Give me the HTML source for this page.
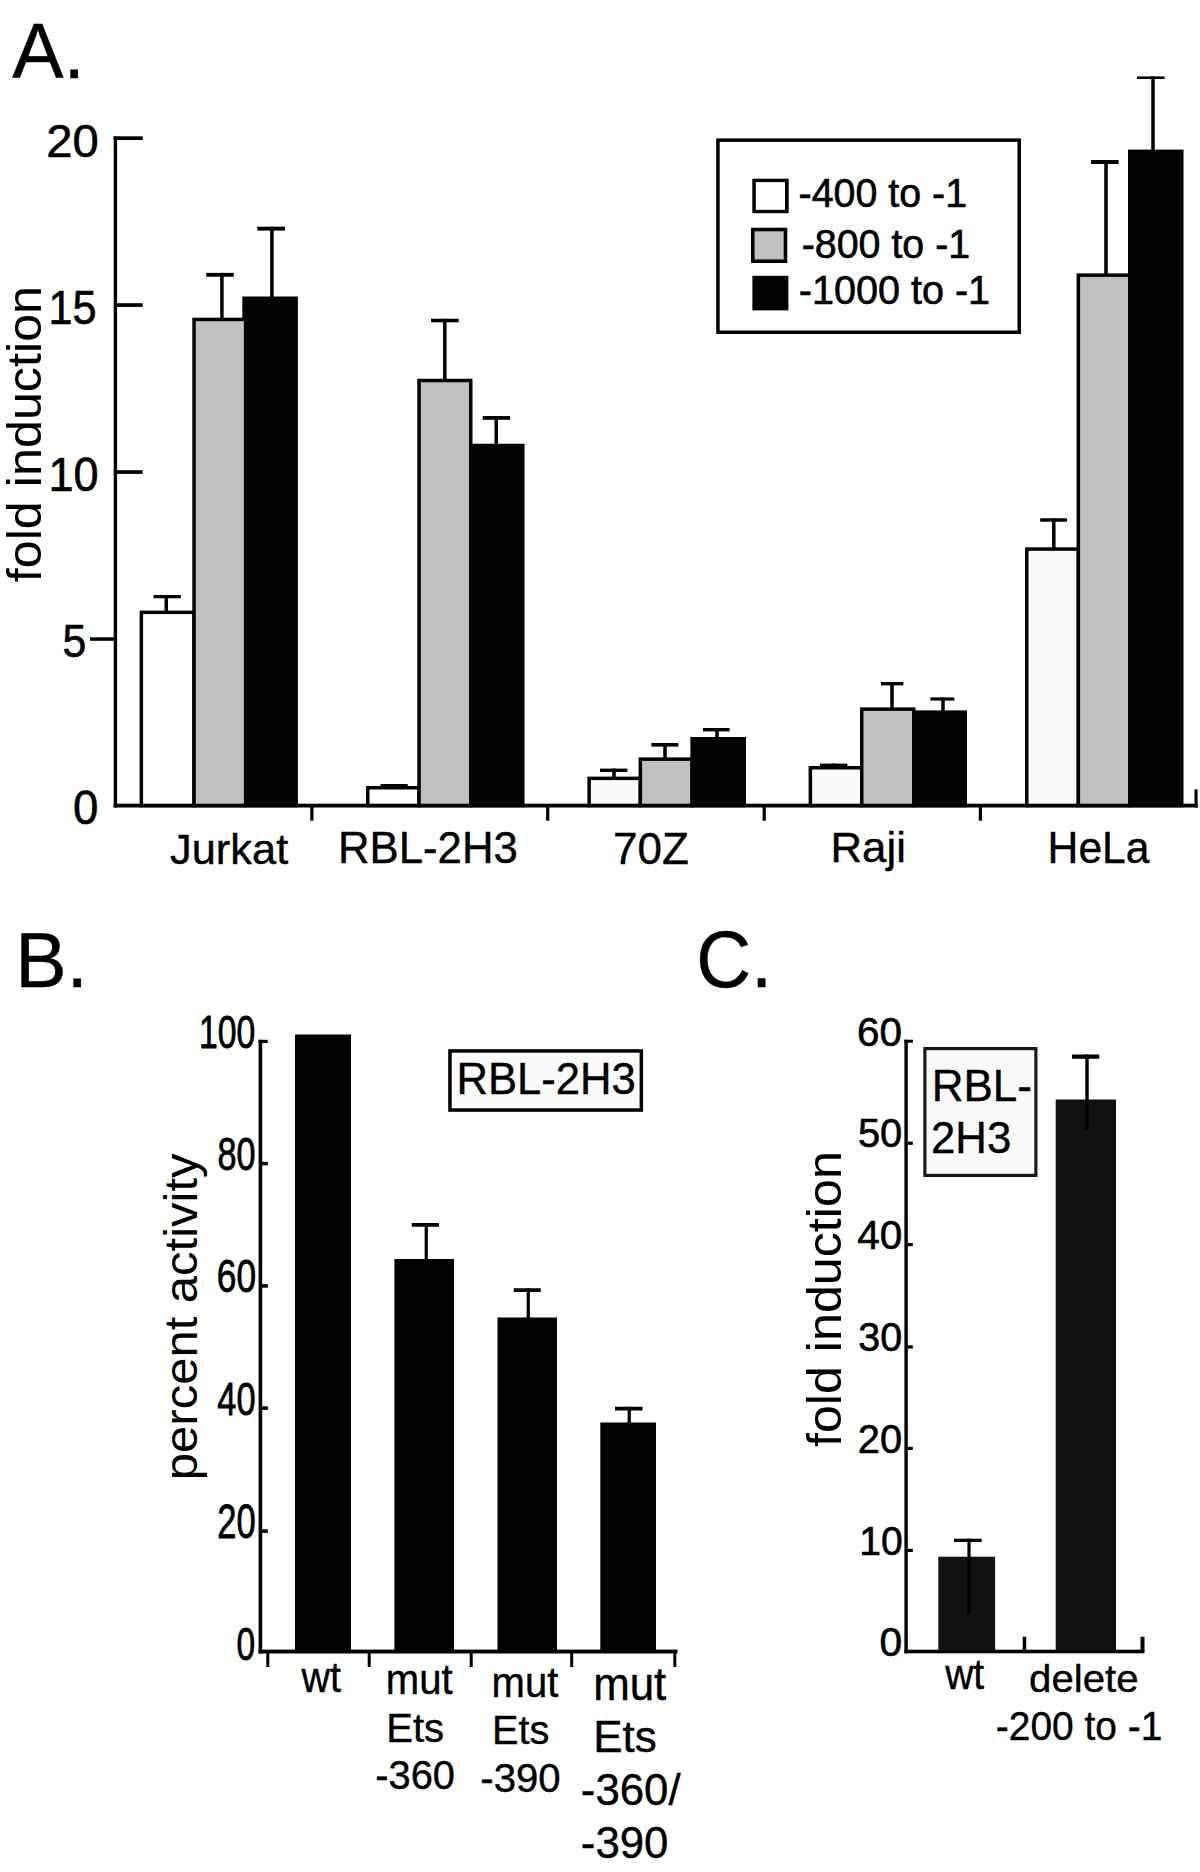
<!DOCTYPE html>
<html><head><meta charset="utf-8"><title>Figure</title>
<style>html,body{margin:0;padding:0;background:#fff;width:1200px;height:1872px;overflow:hidden}
svg{display:block} text{font-family:'Liberation Sans', Arial, sans-serif;fill:#000}</style></head>
<body><svg width="1200" height="1872" viewBox="0 0 1200 1872">
<rect width="1200" height="1872" fill="#fff"/>
<rect x="139.60" y="610.60" width="56.20" height="196.70" fill="#000"/>
<rect x="143.10" y="614.10" width="49.20" height="193.20" fill="#ffffff"/>
<rect x="192.30" y="317.70" width="53.50" height="489.60" fill="#000"/>
<rect x="195.80" y="321.20" width="46.50" height="486.10" fill="#c0c0c0"/>
<rect x="242.30" y="296.50" width="55.60" height="510.80" fill="#000"/>
<rect x="240.30" y="321.20" width="3.60" height="482.50" fill="#c0c0c0"/>
<rect x="366.00" y="786.00" width="54.80" height="21.30" fill="#000"/>
<rect x="369.50" y="789.50" width="47.80" height="17.80" fill="#ffffff"/>
<rect x="417.30" y="378.75" width="55.20" height="428.55" fill="#000"/>
<rect x="420.80" y="382.25" width="48.20" height="425.05" fill="#c0c0c0"/>
<rect x="469.00" y="443.75" width="55.50" height="363.55" fill="#000"/>
<rect x="587.40" y="776.60" width="54.70" height="30.70" fill="#000"/>
<rect x="590.90" y="780.10" width="47.70" height="27.20" fill="#fafafa"/>
<rect x="638.60" y="757.40" width="55.30" height="49.90" fill="#000"/>
<rect x="642.10" y="760.90" width="48.30" height="46.40" fill="#c0c0c0"/>
<rect x="690.40" y="737.00" width="55.60" height="70.30" fill="#000"/>
<rect x="808.60" y="766.00" width="54.90" height="41.30" fill="#000"/>
<rect x="812.10" y="769.50" width="47.90" height="37.80" fill="#fafafa"/>
<rect x="860.00" y="707.40" width="55.50" height="99.90" fill="#000"/>
<rect x="863.50" y="710.90" width="48.50" height="96.40" fill="#c0c0c0"/>
<rect x="912.00" y="710.40" width="55.00" height="96.90" fill="#000"/>
<rect x="1025.00" y="547.30" width="55.10" height="260.00" fill="#000"/>
<rect x="1028.50" y="550.80" width="48.10" height="256.50" fill="#fafafa"/>
<rect x="1076.60" y="273.40" width="54.90" height="533.90" fill="#000"/>
<rect x="1080.10" y="276.90" width="47.90" height="530.40" fill="#c0c0c0"/>
<rect x="1128.00" y="149.60" width="55.50" height="657.70" fill="#000"/>
<rect x="153.50" y="595.00" width="27.30" height="3.30" fill="#000"/>
<rect x="164.50" y="595.00" width="3.50" height="17.00" fill="#000"/>
<rect x="206.25" y="272.90" width="27.50" height="3.80" fill="#000"/>
<rect x="220.15" y="272.90" width="3.50" height="47.10" fill="#000"/>
<rect x="257.30" y="226.70" width="27.70" height="3.90" fill="#000"/>
<rect x="270.15" y="226.70" width="3.50" height="71.30" fill="#000"/>
<rect x="380.60" y="784.00" width="27.10" height="3.00" fill="#000"/>
<rect x="392.45" y="784.00" width="3.50" height="3.00" fill="#000"/>
<rect x="431.00" y="318.75" width="27.75" height="3.55" fill="#000"/>
<rect x="443.05" y="318.75" width="3.50" height="61.25" fill="#000"/>
<rect x="482.70" y="416.00" width="27.30" height="3.80" fill="#000"/>
<rect x="494.50" y="416.00" width="3.50" height="29.00" fill="#000"/>
<rect x="600.00" y="768.60" width="27.40" height="3.40" fill="#000"/>
<rect x="612.25" y="768.60" width="3.50" height="9.40" fill="#000"/>
<rect x="651.40" y="743.00" width="27.00" height="3.60" fill="#000"/>
<rect x="663.25" y="743.00" width="3.50" height="16.00" fill="#000"/>
<rect x="703.00" y="728.00" width="26.60" height="3.40" fill="#000"/>
<rect x="715.25" y="728.00" width="3.50" height="10.00" fill="#000"/>
<rect x="820.00" y="763.60" width="27.40" height="2.40" fill="#000"/>
<rect x="831.95" y="763.60" width="3.50" height="2.40" fill="#000"/>
<rect x="881.00" y="682.00" width="22.40" height="3.40" fill="#000"/>
<rect x="890.25" y="682.00" width="3.50" height="27.00" fill="#000"/>
<rect x="930.40" y="697.40" width="24.00" height="3.20" fill="#000"/>
<rect x="941.25" y="697.40" width="3.50" height="14.60" fill="#000"/>
<rect x="1040.20" y="518.30" width="26.80" height="3.40" fill="#000"/>
<rect x="1052.05" y="518.30" width="3.50" height="30.70" fill="#000"/>
<rect x="1091.00" y="160.00" width="27.60" height="4.00" fill="#000"/>
<rect x="1104.25" y="160.00" width="3.50" height="115.00" fill="#000"/>
<rect x="1137.00" y="76.40" width="27.60" height="2.60" fill="#000"/>
<rect x="1151.25" y="76.40" width="3.50" height="74.60" fill="#000"/>
<rect x="113.70" y="136.30" width="3.40" height="671.20" fill="#000"/>
<rect x="113.70" y="803.70" width="1083.90" height="3.80" fill="#000"/>
<rect x="113.70" y="136.30" width="29.00" height="3.70" fill="#000"/>
<rect x="117.00" y="303.20" width="25.70" height="3.70" fill="#000"/>
<rect x="117.00" y="470.20" width="25.70" height="3.70" fill="#000"/>
<rect x="90.00" y="637.30" width="24.00" height="3.50" fill="#000"/>
<rect x="310.30" y="806.00" width="3.20" height="14.70" fill="#000"/>
<rect x="546.10" y="806.00" width="3.20" height="14.70" fill="#000"/>
<rect x="762.60" y="806.00" width="3.20" height="14.70" fill="#000"/>
<rect x="978.80" y="806.00" width="3.20" height="14.70" fill="#000"/>
<rect x="1194.50" y="789.30" width="3.10" height="18.20" fill="#000"/>
<rect x="716.20" y="138.40" width="304.80" height="195.60" fill="#000"/>
<rect x="719.70" y="141.90" width="297.80" height="188.60" fill="#fff"/>
<rect x="752.30" y="178.70" width="36.40" height="34.50" fill="#000"/>
<rect x="755.80" y="182.10" width="29.20" height="27.70" fill="#ffffff"/>
<rect x="751.00" y="227.70" width="36.30" height="35.30" fill="#000"/>
<rect x="754.60" y="231.30" width="29.10" height="28.10" fill="#c0c0c0"/>
<rect x="752.40" y="275.80" width="36.00" height="34.60" fill="#000"/>
<rect x="258.60" y="1039.80" width="3.60" height="613.70" fill="#000"/>
<rect x="258.60" y="1649.60" width="418.90" height="3.90" fill="#000"/>
<rect x="258.60" y="1039.80" width="9.10" height="3.20" fill="#000"/>
<rect x="262.00" y="1161.80" width="5.80" height="3.60" fill="#000"/>
<rect x="262.00" y="1284.10" width="5.80" height="3.60" fill="#000"/>
<rect x="262.00" y="1406.30" width="5.80" height="3.60" fill="#000"/>
<rect x="262.00" y="1529.30" width="5.80" height="3.60" fill="#000"/>
<rect x="266.30" y="1652.00" width="3.00" height="15.00" fill="#000"/>
<rect x="367.70" y="1652.00" width="3.00" height="15.00" fill="#000"/>
<rect x="469.70" y="1652.00" width="3.00" height="15.00" fill="#000"/>
<rect x="570.20" y="1652.00" width="3.00" height="15.00" fill="#000"/>
<rect x="673.30" y="1652.00" width="3.00" height="15.00" fill="#000"/>
<rect x="295.00" y="1034.50" width="56.00" height="616.50" fill="#000"/>
<rect x="394.40" y="1259.00" width="59.60" height="392.00" fill="#000"/>
<rect x="497.50" y="1317.50" width="59.50" height="333.50" fill="#000"/>
<rect x="600.30" y="1422.50" width="55.70" height="228.50" fill="#000"/>
<rect x="411.75" y="1223.00" width="27.25" height="3.75" fill="#000"/>
<rect x="424.65" y="1223.00" width="3.20" height="38.00" fill="#000"/>
<rect x="513.75" y="1288.25" width="27.00" height="3.75" fill="#000"/>
<rect x="526.65" y="1288.25" width="3.20" height="30.75" fill="#000"/>
<rect x="615.00" y="1406.75" width="27.50" height="3.75" fill="#000"/>
<rect x="627.65" y="1406.75" width="3.20" height="17.25" fill="#000"/>
<rect x="448.20" y="1049.20" width="194.90" height="62.60" fill="#000"/>
<rect x="451.70" y="1052.70" width="187.90" height="55.60" fill="#fbfbfb"/>
<rect x="904.40" y="1039.75" width="3.40" height="613.55" fill="#000"/>
<rect x="904.40" y="1649.70" width="240.10" height="3.60" fill="#000"/>
<rect x="904.40" y="1039.75" width="8.50" height="2.95" fill="#000"/>
<rect x="907.50" y="1141.60" width="5.30" height="3.20" fill="#000"/>
<rect x="907.50" y="1243.00" width="5.30" height="3.20" fill="#000"/>
<rect x="907.50" y="1345.30" width="5.30" height="3.20" fill="#000"/>
<rect x="907.50" y="1446.80" width="5.30" height="3.20" fill="#000"/>
<rect x="907.50" y="1548.80" width="5.30" height="3.20" fill="#000"/>
<rect x="1022.70" y="1636.80" width="3.50" height="14.20" fill="#000"/>
<rect x="1140.50" y="1636.80" width="4.00" height="14.20" fill="#000"/>
<rect x="938.30" y="1556.70" width="56.80" height="94.30" fill="#111"/>
<rect x="1055.70" y="1099.50" width="60.30" height="551.50" fill="#111"/>
<rect x="954.00" y="1538.70" width="27.70" height="3.30" fill="#000"/>
<rect x="967.40" y="1538.70" width="3.20" height="76.30" fill="#000"/>
<rect x="1072.00" y="1054.50" width="27.25" height="4.25" fill="#000"/>
<rect x="1085.30" y="1054.50" width="3.40" height="75.50" fill="#000"/>
<rect x="923.30" y="1047.00" width="114.20" height="130.00" fill="#1a1a1a"/>
<rect x="926.50" y="1050.20" width="107.80" height="123.60" fill="#fafafa"/>
<text transform="matrix(0.7694 0.0000 0.0000 0.7855 12.2000 77.6000)" font-size="100" stroke="#000" stroke-width="0.4" vector-effect="non-scaling-stroke">A.</text>
<text transform="matrix(0.4716 0.0000 0.0000 0.4690 46.2422 157.1310)" font-size="100" stroke="#000" stroke-width="0.6" vector-effect="non-scaling-stroke">20</text>
<text transform="matrix(0.4323 0.0000 0.0000 0.4743 48.5414 323.8257)" font-size="100" stroke="#000" stroke-width="0.6" vector-effect="non-scaling-stroke">15</text>
<text transform="matrix(0.4505 0.0000 0.0000 0.4732 48.3960 490.7268)" font-size="100" stroke="#000" stroke-width="0.6" vector-effect="non-scaling-stroke">10</text>
<text transform="matrix(0.4277 0.0000 0.0000 0.4657 62.5894 657.1343)" font-size="100" stroke="#000" stroke-width="0.6" vector-effect="non-scaling-stroke">5</text>
<text transform="matrix(0.4563 0.0000 0.0000 0.4739 72.9750 824.4761)" font-size="100" stroke="#000" stroke-width="0.6" vector-effect="non-scaling-stroke">0</text>
<text transform="matrix(0.0000 -0.5030 0.4831 0.0000 40.5169 582.2530)" font-size="100">fold induction</text>
<text transform="matrix(0.3938 0.0000 0.0000 0.4070 798.5248 206.9930)" font-size="100" stroke="#000" stroke-width="0.6" vector-effect="non-scaling-stroke">-400 to -1</text>
<text transform="matrix(0.3936 0.0000 0.0000 0.4070 801.7258 258.2930)" font-size="100" stroke="#000" stroke-width="0.6" vector-effect="non-scaling-stroke">-800 to -1</text>
<text transform="matrix(0.3958 0.0000 0.0000 0.4070 798.7168 304.0930)" font-size="100" stroke="#000" stroke-width="0.6" vector-effect="non-scaling-stroke">-1000 to -1</text>
<text transform="matrix(0.4341 0.0000 0.0000 0.4230 170.0319 863.6770)" font-size="100" stroke="#000" stroke-width="0.4" vector-effect="non-scaling-stroke">Jurkat</text>
<text transform="matrix(0.4371 0.0000 0.0000 0.4352 338.0033 862.8648)" font-size="100" stroke="#000" stroke-width="0.4" vector-effect="non-scaling-stroke">RBL-2H3</text>
<text transform="matrix(0.4396 0.0000 0.0000 0.4423 613.0018 864.3577)" font-size="100" stroke="#000" stroke-width="0.4" vector-effect="non-scaling-stroke">70Z</text>
<text transform="matrix(0.4379 0.0000 0.0000 0.4287 830.4468 862.4968)" font-size="100" stroke="#000" stroke-width="0.4" vector-effect="non-scaling-stroke">Raji</text>
<text transform="matrix(0.4268 0.0000 0.0000 0.4486 1047.5853 863.1514)" font-size="100" stroke="#000" stroke-width="0.4" vector-effect="non-scaling-stroke">HeLa</text>
<text transform="matrix(0.7714 0.0000 0.0000 0.7870 15.1286 986.7000)" font-size="100" stroke="#000" stroke-width="0.4" vector-effect="non-scaling-stroke">B.</text>
<text transform="matrix(0.3374 0.0000 0.0000 0.4690 198.9506 1047.8810)" font-size="100" stroke="#000" stroke-width="0.7" vector-effect="non-scaling-stroke">100</text>
<text transform="matrix(0.3417 0.0000 0.0000 0.4690 217.5830 1169.9810)" font-size="100" stroke="#000" stroke-width="0.7" vector-effect="non-scaling-stroke">80</text>
<text transform="matrix(0.3529 0.0000 0.0000 0.4690 216.7853 1292.0810)" font-size="100" stroke="#000" stroke-width="0.7" vector-effect="non-scaling-stroke">60</text>
<text transform="matrix(0.3438 0.0000 0.0000 0.4676 217.3624 1414.8824)" font-size="100" stroke="#000" stroke-width="0.7" vector-effect="non-scaling-stroke">40</text>
<text transform="matrix(0.3451 0.0000 0.0000 0.4761 217.2245 1537.5739)" font-size="100" stroke="#000" stroke-width="0.7" vector-effect="non-scaling-stroke">20</text>
<text transform="matrix(0.3354 0.0000 0.0000 0.4690 236.5083 1659.6810)" font-size="100" stroke="#000" stroke-width="0.7" vector-effect="non-scaling-stroke">0</text>
<text transform="matrix(0.0000 -0.4902 0.4681 0.0000 196.6702 1480.1811)" font-size="100">percent activity</text>
<text transform="matrix(0.4361 0.0000 0.0000 0.4352 456.4113 1094.1648)" font-size="100" stroke="#000" stroke-width="0.4" vector-effect="non-scaling-stroke">RBL-2H3</text>
<text transform="matrix(0.3939 0.0000 0.0000 0.4169 301.5000 1692.2831)" font-size="100" stroke="#000" stroke-width="0.4" vector-effect="non-scaling-stroke">wt</text>
<text transform="matrix(0.4013 0.0000 0.0000 0.4185 385.7912 1694.0815)" font-size="100" stroke="#000" stroke-width="0.4" vector-effect="non-scaling-stroke">mut</text>
<text transform="matrix(0.4015 0.0000 0.0000 0.4043 386.1880 1741.5957)" font-size="100" stroke="#000" stroke-width="0.4" vector-effect="non-scaling-stroke">Ets</text>
<text transform="matrix(0.3984 0.0000 0.0000 0.4028 375.3062 1788.9972)" font-size="100" stroke="#000" stroke-width="0.4" vector-effect="non-scaling-stroke">-360</text>
<text transform="matrix(0.4000 0.0000 0.0000 0.4169 491.6000 1696.8831)" font-size="100" stroke="#000" stroke-width="0.4" vector-effect="non-scaling-stroke">mut</text>
<text transform="matrix(0.3977 0.0000 0.0000 0.4029 492.0180 1743.9971)" font-size="100" stroke="#000" stroke-width="0.4" vector-effect="non-scaling-stroke">Ets</text>
<text transform="matrix(0.4016 0.0000 0.0000 0.4070 480.2937 1791.8930)" font-size="100" stroke="#000" stroke-width="0.4" vector-effect="non-scaling-stroke">-390</text>
<text transform="matrix(0.4390 0.0000 0.0000 0.4554 593.1270 1699.5446)" font-size="100" stroke="#000" stroke-width="0.4" vector-effect="non-scaling-stroke">mut</text>
<text transform="matrix(0.4398 0.0000 0.0000 0.4400 593.1812 1752.2600)" font-size="100" stroke="#000" stroke-width="0.4" vector-effect="non-scaling-stroke">Ets</text>
<text transform="matrix(0.4379 0.0000 0.0000 0.4392 580.8482 1804.9608)" font-size="100" stroke="#000" stroke-width="0.4" vector-effect="non-scaling-stroke">-360/</text>
<text transform="matrix(0.4375 0.0000 0.0000 0.4408 580.8500 1858.1592)" font-size="100" stroke="#000" stroke-width="0.4" vector-effect="non-scaling-stroke">-390</text>
<text transform="matrix(0.7610 0.0000 0.0000 0.7923 696.1448 986.9077)" font-size="100" stroke="#000" stroke-width="0.4" vector-effect="non-scaling-stroke">C.</text>
<text transform="matrix(0.4044 0.0000 0.0000 0.4085 857.0279 1045.8915)" font-size="100" stroke="#000" stroke-width="0.6" vector-effect="non-scaling-stroke">60</text>
<text transform="matrix(0.3990 0.0000 0.0000 0.3972 857.9039 1146.9028)" font-size="100" stroke="#000" stroke-width="0.6" vector-effect="non-scaling-stroke">50</text>
<text transform="matrix(0.4048 0.0000 0.0000 0.3986 857.2905 1248.7014)" font-size="100" stroke="#000" stroke-width="0.6" vector-effect="non-scaling-stroke">40</text>
<text transform="matrix(0.3942 0.0000 0.0000 0.4070 858.2233 1351.0930)" font-size="100" stroke="#000" stroke-width="0.6" vector-effect="non-scaling-stroke">30</text>
<text transform="matrix(0.3980 0.0000 0.0000 0.4000 857.8098 1452.6000)" font-size="100" stroke="#000" stroke-width="0.6" vector-effect="non-scaling-stroke">20</text>
<text transform="matrix(0.3909 0.0000 0.0000 0.4000 859.1727 1554.5000)" font-size="100" stroke="#000" stroke-width="0.6" vector-effect="non-scaling-stroke">10</text>
<text transform="matrix(0.4063 0.0000 0.0000 0.3986 879.4750 1655.9014)" font-size="100" stroke="#000" stroke-width="0.6" vector-effect="non-scaling-stroke">0</text>
<text transform="matrix(0.0000 -0.5021 0.4865 0.0000 841.0135 1447.0021)" font-size="100">fold induction</text>
<text transform="matrix(0.4400 0.0000 0.0000 0.4522 931.6800 1101.1000)" font-size="100" stroke="#000" stroke-width="0.4" vector-effect="non-scaling-stroke">RBL-</text>
<text transform="matrix(0.4374 0.0000 0.0000 0.4451 931.0132 1153.3549)" font-size="100" stroke="#000" stroke-width="0.4" vector-effect="non-scaling-stroke">2H3</text>
<text transform="matrix(0.3899 0.0000 0.0000 0.4215 945.2000 1689.3785)" font-size="100" stroke="#000" stroke-width="0.4" vector-effect="non-scaling-stroke">wt</text>
<text transform="matrix(0.4019 0.0000 0.0000 0.3797 1029.0924 1691.9203)" font-size="100" stroke="#000" stroke-width="0.4" vector-effect="non-scaling-stroke">delete</text>
<text transform="matrix(0.3893 0.0000 0.0000 0.4085 995.8430 1739.5915)" font-size="100" stroke="#000" stroke-width="0.4" vector-effect="non-scaling-stroke">-200 to -1</text>
</svg></body></html>
